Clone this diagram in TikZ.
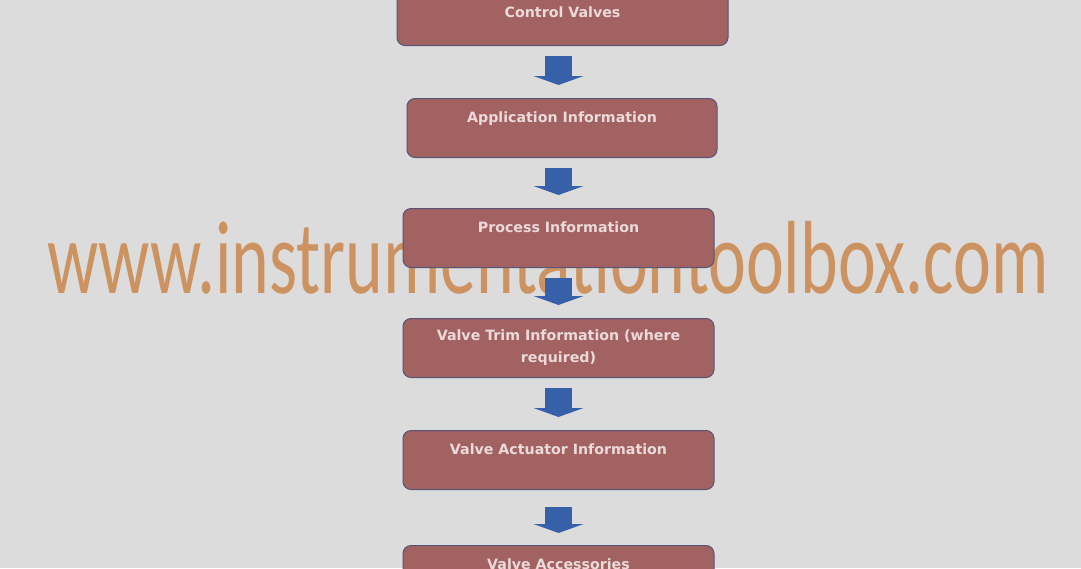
\documentclass[tikz,border=0pt]{standalone}
\usepackage{fontspec}
\setmainfont{DejaVu Sans}
\newfontfamily\wmfont{Carlito}
\usetikzlibrary{arrows.meta}
\definecolor{bgray}{RGB}{220,220,220}
\definecolor{boxred}{RGB}{163,98,98}
\definecolor{boxline}{RGB}{85,85,120}
\definecolor{boxtext}{RGB}{236,218,218}
\definecolor{arrowblue}{RGB}{54,96,168}
\definecolor{wmorange}{RGB}{204,146,96}
\tikzset{
  infobox/.style={draw=boxline,fill=boxred,rounded corners=8pt,line width=1pt,anchor=north,
    inner ysep=0pt,minimum width=311pt,align=center,text=boxtext,
    font=\bfseries\fontsize{14.2}{22}\selectfont,text height=24pt,text depth=35pt},
  downarrow/.style={draw=arrowblue,line width=27pt,
    -{Triangle[width=50pt,length=9pt,line width=0pt]},shorten <=10pt,shorten >=13pt}
}
\begin{document}
\begin{tikzpicture}[x=1pt,y=-1pt]
\useasboundingbox (0,0) rectangle (1081,568);
\fill[bgray] (0,0) rectangle (1081,568);
\node[font=\wmfont\fontsize{104}{104}\selectfont,text=wmorange,anchor=base,inner sep=0pt,xscale=0.69] (site) at (548,293) {www.instrumentationtoolbox.com};

\node[infobox,minimum width=331pt,text height=31pt,text depth=28pt] (valves) at (562.5,-14) {Control Valves};
\node[infobox,minimum width=310pt] (app) at (562,98) {Application Information};
\node[infobox] (process) at (558.5,208) {Process Information};
\node[infobox,text height=44pt,text depth=15pt] (trim) at (558.5,318) {Valve Trim Information (where\\required)};
\node[infobox] (actuator) at (558.5,430) {Valve Actuator Information};
\node[infobox] (access) at (558.5,545) {Valve Accessories};

\draw[downarrow] (valves.south -| process) -- (app.north -| process);
\draw[downarrow] (app.south -| process) -- (process.north);
\draw[downarrow] (process) -- (trim.north);
\draw[downarrow] (trim) -- (actuator.north);
\draw[downarrow,shorten <=17pt,shorten >=12pt] (actuator) -- (access.north);
\end{tikzpicture}
\end{document}
